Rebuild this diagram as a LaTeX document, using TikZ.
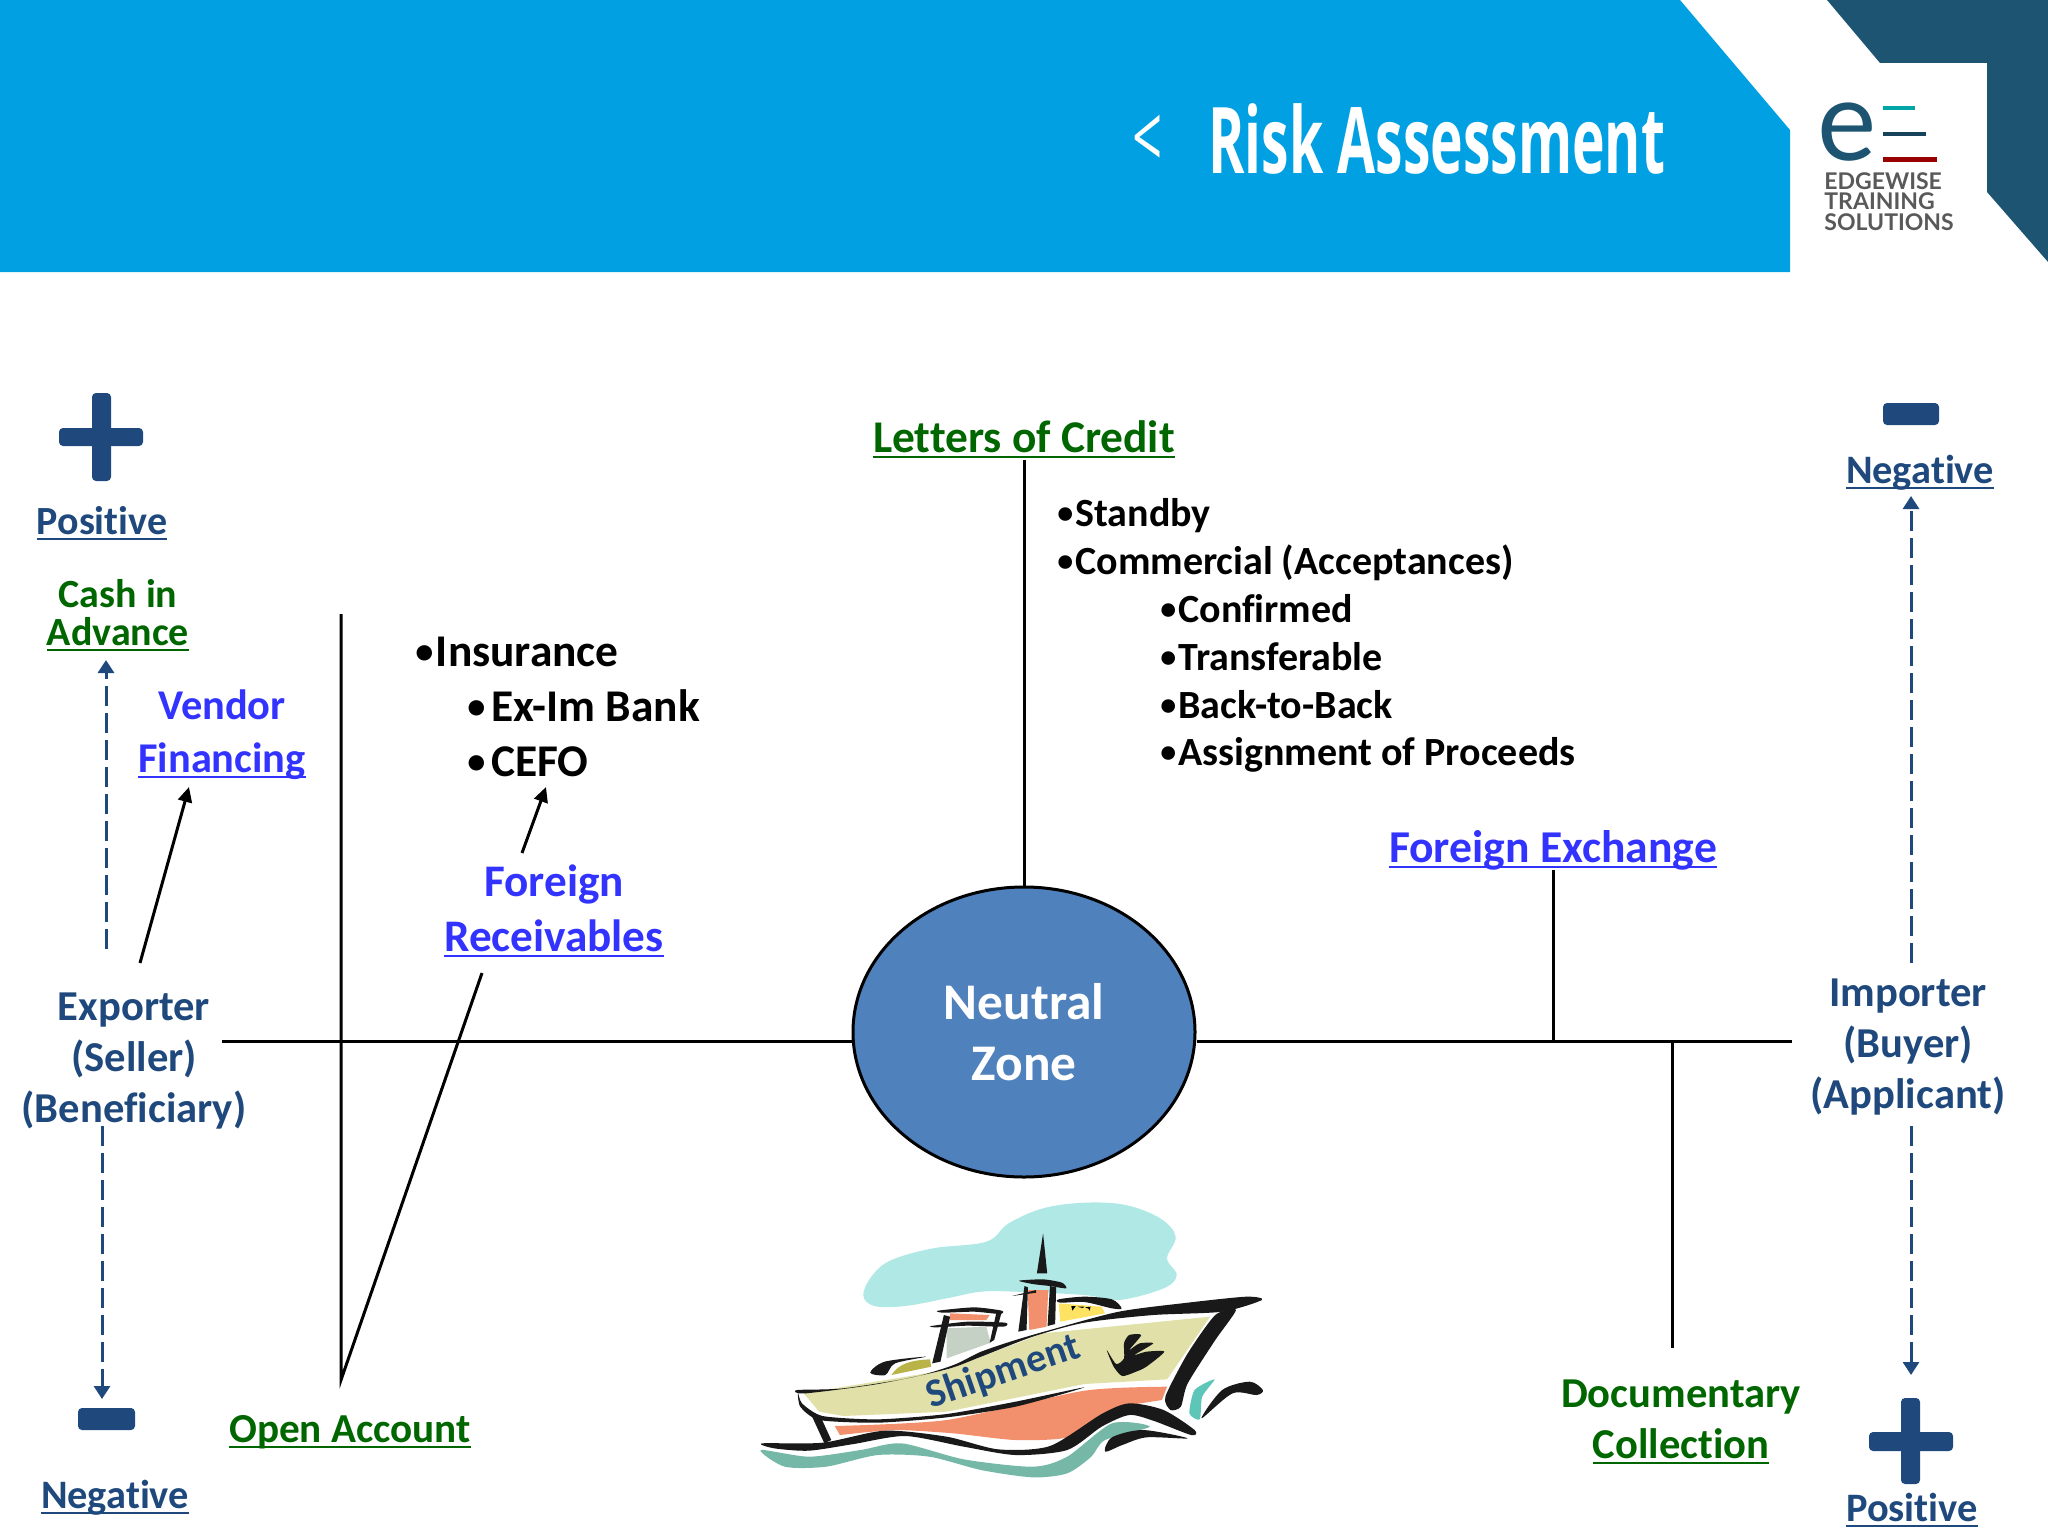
\documentclass[tikz,border=0pt]{standalone}
\usepackage{fontspec}
\usetikzlibrary{arrows.meta,shapes.geometric}
\setmainfont[Ligatures=NoCommon]{Carlito}
\newfontfamily\titlefont[FakeStretch=0.6]{Open Sans}
\newfontfamily\logofont{Lato}
\definecolor{hdr}{HTML}{00A0E3}
\definecolor{hdrdark}{HTML}{1C5471}
\definecolor{navy}{HTML}{1F497D}
\definecolor{grn}{HTML}{006600}
\definecolor{vio}{HTML}{3333FF}
\definecolor{zonefill}{HTML}{4F81BD}
\definecolor{cloudc}{HTML}{B0E8E6}
\definecolor{hullc}{HTML}{E0E0A8}
\definecolor{orng}{HTML}{F28F6C}
\definecolor{wave}{HTML}{75B8A8}
\newcommand{\ulbar}[1]{\leavevmode\setbox0=\hbox{#1}\rlap{\rule[-3pt]{\wd0}{1.4pt}}\box0 }
\newcommand{\bull}[1]{\raisebox{0.07em}{\scalebox{0.8}{•}}\kern#1}
\tikzset{
 lab/.style={inner sep=0pt,yshift=-4.2pt,font=\bfseries\fontsize{#1}{#1}\selectfont,text height=0.7em,text depth=0.2em},
 conn/.style={line width=1.5pt,black},
 dashline/.style={line width=1.5pt,navy,dash pattern=on 10pt off 3.5pt,-{Triangle[width=8pt,length=6.5pt]}},
 arr/.style={conn,-{Triangle[width=7pt,length=7.5pt]}},
 sym/.style={navy,rounded corners=2pt},
}
\begin{document}
\begin{tikzpicture}[x=0.5pt,y=-0.5pt]
\useasboundingbox (0,0) rectangle (2048,1536);
% header
\fill[hdr] (0,0) -- (1680,0) -- (1790,130) -- (1790,272) -- (0,272) -- cycle;
\fill[hdrdark] (1827,0) -- (1880,63) -- (1987,63) -- (1987,192) -- (2048,262) -- (2048,0) -- cycle;
\node[text=white,inner sep=0pt] (chev) at (1148,142) {\titlefont\fontsize{44}{44}\selectfont <};
\node[text=white,inner sep=0pt,anchor=base west] (title) at (1208,173) {\titlefont\bfseries\fontsize{46}{48}\selectfont Risk Assessment};
% logo
\node[text=hdrdark,inner sep=0pt,anchor=base] (logoe) at (1847,160) {\logofont\fontsize{56}{56}\selectfont e};
\fill[teal!70!cyan] (1883,106) rectangle (1915,110);
\fill[hdrdark!80!black] (1883,132) rectangle (1926,136);
\fill[red!60!black] (1883,157) rectangle (1937,162);
\node[text=black!65,inner sep=0pt,anchor=base west] (l1) at (1824,189) {\logofont\bfseries\fontsize{11.5}{12}\selectfont EDGEWISE};
\node[text=black!65,inner sep=0pt,anchor=base west] (l2) at (1824,209) {\logofont\bfseries\fontsize{11.5}{12}\selectfont TRAINING};
\node[text=black!65,inner sep=0pt,anchor=base west] (l3) at (1824,230) {\logofont\bfseries\fontsize{11.5}{12}\selectfont SOLUTIONS};
% zone
\node[ellipse,draw=black,line width=1.5pt,fill=zonefill,minimum width=171pt,minimum height=145pt,inner sep=0pt] (zone) at (1024,1032) {};
\node[lab=25.7,text=white] (z1) at (1024,1006) {Neutral};
\node[lab=25.7,text=white] (z2) at (1024,1067) {Zone};
% labels
\node[lab=22.7,text=grn] (loc) at (1024,439) {\ulbar{Letters of Credit}};
\node[lab=20,text=navy] (posL) at (102,521) {\ulbar{Positive}};
\node[lab=20,text=grn] (cash1) at (118,594) {Cash in};
\node[lab=20,text=grn] (cash2) at (118,632) {\ulbar{Advance}};
\node[lab=21.2,text=vio] (vend1) at (222,706) {Vendor};
\node[lab=21.2,text=vio] (vend2) at (222,759) {\ulbar{Financing}};
\node[lab=22.6,text=vio] (fr1) at (554,883) {Foreign};
\node[lab=22.6,text=vio] (fr2) at (554,938) {\ulbar{Receivables}};
\node[lab=21.3,text=navy] (ex1) at (134,1007) {Exporter};
\node[lab=21.3,text=navy] (ex2) at (134,1058) {(Seller)};
\node[lab=21.3,text=navy] (ex3) at (134,1109) {(Beneficiary)};
\node[lab=21.3,text=navy] (im1) at (1908,993) {Importer};
\node[lab=21.3,text=navy] (im2) at (1908,1044) {(Buyer)};
\node[lab=21.3,text=navy] (im3) at (1908,1095) {(Applicant)};
\node[lab=20.2,text=navy] (negR) at (1920,470) {\ulbar{Negative}};
\node[lab=20.2,text=navy] (negL) at (115,1495) {\ulbar{Negative}};
\node[lab=20.2,text=navy] (posR) at (1912,1508) {\ulbar{Positive}};
\node[lab=20.6,text=grn] (oa) at (350,1429) {\ulbar{Open Account}};
\node[lab=21.3,text=grn] (dc1) at (1681,1394) {Documentary};
\node[lab=21.3,text=grn] (dc2) at (1681,1445) {\ulbar{Collection}};
\node[lab=22.8,text=vio] (fx) at (1553,849) {\ulbar{Foreign Exchange}};
% bullet lists
\node[lab=22.7,anchor=west] (i1) at (415,653) {\bull{1.2pt}Insurance};
\node[lab=22.7,anchor=west] (i2) at (467,708) {\bull{2.8pt}Ex-Im Bank};
\node[lab=22.7,anchor=west] (i3) at (467,763) {\bull{2.8pt}CEFO};
\node[lab=20,anchor=west] (s1) at (1057,513) {\bull{1pt}Standby};
\node[lab=20,anchor=west] (s2) at (1057,561) {\bull{1pt}Commercial (Acceptances)};
\node[lab=20,anchor=west] (s3) at (1160,609) {\bull{1pt}Confirmed};
\node[lab=20,anchor=west] (s4) at (1160,657) {\bull{1pt}Transferable};
\node[lab=20,anchor=west] (s5) at (1160,705) {\bull{1pt}Back-to-Back};
\node[lab=20,anchor=west] (s6) at (1160,752) {\bull{1pt}Assignment of Proceeds};
% free ends
\coordinate (hl) at (222,1041);
\coordinate (hr) at (1792,1041);
\coordinate (vtop) at (341,614);
\coordinate (vbot) at (341,1380);
\coordinate (oaend) at (482,973);
\coordinate (vfs) at (140,963);
\coordinate (vfe) at (189,787);
\coordinate (frs) at (522,853);
\coordinate (fre) at (546,787);
\coordinate (fxs) at (1553,870);
\coordinate (fxe) at (1553,1041);
\coordinate (dcs) at (1672,1041);
\coordinate (dce) at (1672,1348);
\coordinate (locs) at (1024,460);
\coordinate (d1s) at (106,949);
\coordinate (d1e) at (106,660);
\coordinate (d2s) at (102,1126);
\coordinate (d2e) at (102,1399);
\coordinate (d3s) at (1911,963);
\coordinate (d3e) at (1911,496);
\coordinate (d4s) at (1911,1126);
\coordinate (d4e) at (1911,1375);
% connectors
\draw[conn] (hl) -- (zone.west |- hl);
\draw[conn] (zone.east |- hr) -- (hr);
\draw[conn] (locs) -- (zone.north);
\draw[conn] (vtop) -- (vbot) -- (oaend);
\draw[conn] (fxs) -- (fxe);
\draw[conn] (dcs) -- (dce);
\draw[arr] (vfs) -- (vfe);
\draw[arr] (frs) -- (fre);
\draw[dashline] (d1s) -- (d1e);
\draw[dashline] (d2s) -- (d2e);
\draw[dashline] (d3s) -- (d3e);
\draw[dashline] (d4s) -- (d4e);
% plus / minus
\fill[sym] (92,393) rectangle (111,481);
\fill[sym] (59,428) rectangle (143,446);
\fill[sym] (1883,403) rectangle (1939,425);
\fill[sym] (78,1408) rectangle (135,1430);
\fill[sym] (1901,1398) rectangle (1920,1484);
\fill[sym] (1869,1432) rectangle (1953,1451);
% ship
\begin{scope}[shift={(740,1180)},x=0.1722pt,y=-0.16667pt]
\fill[cloudc] plot[smooth cycle,tension=0.6] coordinates {(358,345)(385,285)(440,240)(560,205)(715,185)(780,130)(880,85)(1000,68)(1120,75)(1220,115)(1265,170)(1240,235)(1268,285)(1230,325)(1100,360)(1000,345)(800,335)(700,335)(600,355)(480,378)(390,378)};
\fill[orng] (835,330) -- (895,330) -- (890,440) -- (840,450) -- cycle;
\fill[yellow!70!orange!60] (925,370) -- (1050,380) -- (1060,400) -- (930,425) -- cycle;
\fill[black!90] plot[smooth cycle,tension=0.5] coordinates {(925,358)(1000,350)(1080,358)(1108,385)(1080,385)(1000,366)(930,368)};
\fill[black] (1002,382) -- (1018,380) -- (1015,392) -- (1012,386) -- cycle (962,378) -- (975,378) -- (965,392) -- cycle (980,380) -- (1000,380) -- (995,384) -- cycle;
\fill[black!90] (880,160) -- (892,280) -- (862,280) -- cycle;
\fill[black!90] plot[smooth cycle,tension=0.4] coordinates {(810,302)(880,298)(935,308)(947,325)(900,318)(850,312)};
\fill[black!90] (826,318) -- (808,455) -- (832,450) -- (836,322) -- cycle;
\fill[black!90] (900,318) -- (893,438) -- (915,432) -- (918,322) -- cycle;
\fill[black!90] (790,348) -- (860,330) -- (860,338) -- cycle;
\fill[black!15!green!15!gray!40] (600,445) -- (715,440) -- (728,488) -- (600,535) -- cycle;
\fill[orng] (610,400) -- (725,405) -- (715,420) -- (610,420) -- cycle;
\fill[black!90] plot[smooth cycle,tension=0.4] coordinates {(575,392)(680,382)(760,392)(755,402)(680,395)(590,398)};
\fill[black!90] plot[smooth cycle,tension=0.4] coordinates {(555,438)(660,425)(770,428)(765,440)(660,437)(570,442)};
\fill[black!90] (592,405) -- (558,550) -- (582,545) -- (610,410) -- cycle;
\fill[black!90] (745,395) -- (725,488) -- (738,480) -- (760,395) -- cycle;
\fill[olive!50!hullc] (440,585) .. controls (460,550) and (500,540) .. (552,538) -- (555,560) -- cycle;
\fill[black!90] plot[smooth cycle,tension=0.5] coordinates {(378,578)(420,545)(540,530)(450,550)(422,585)};
\fill[hullc] (185,640) -- (600,570) -- (880,460) -- (1365,410) -- (1240,598) -- (1000,612) -- (600,695) -- (300,708) -- (230,695) -- cycle;
\fill[orng] plot[smooth,tension=0.4] coordinates {(275,738)(600,720)(1000,632)(1240,620)} -- (1225,660) -- plot[smooth,tension=0.4] coordinates {(1100,680)(960,770)(800,780)(620,760)(450,750)(290,765)} -- cycle;
\fill[black!90] plot[smooth cycle,tension=0.45] coordinates {(165,630)(300,625)(500,592)(620,555)(700,515)(800,480)(900,450)(1100,395)(1300,368)(1470,350)(1515,360)(1400,395)(1200,405)(1000,428)(850,470)(700,530)(600,568)(400,612)(190,640)};
\fill[black!90] plot[smooth cycle,tension=0.4] coordinates {(1380,405)(1300,520)(1235,650)(1250,690)(1280,680)(1300,610)(1380,480)(1440,390)};
\fill[black!90] plot[smooth cycle,tension=0.4] coordinates {(168,635)(180,670)(240,708)(400,718)(600,702)(800,665)(1000,622)(800,680)(600,712)(400,728)(230,720)(175,680)};
\fill[black!90] (205,700) -- (245,790) -- (265,780) -- (235,712) -- cycle;
\fill[black!90] plot[smooth cycle,tension=0.45] coordinates {(65,790)(240,788)(420,752)(600,770)(750,808)(900,798)(1050,702)(1130,670)(1230,690)(1320,750)(1310,765)(1200,722)(1130,705)(1050,740)(950,810)(800,825)(650,800)(480,768)(330,792)(200,812)(100,805)};
\fill[wave] plot[smooth cycle,tension=0.45] coordinates {(60,810)(200,830)(350,810)(470,790)(650,838)(850,860)(950,830)(1080,730)(1190,740)(1060,780)(1020,830)(950,880)(850,892)(700,870)(550,830)(400,825)(250,860)(130,860)};
\fill[black!90] plot[smooth cycle,tension=0.5] coordinates {(1060,815)(1080,772)(1170,750)(1300,775)(1180,772)(1110,795)};
\fill[wave!80!cyan] plot[smooth cycle,tension=0.4] coordinates {(1305,700)(1320,630)(1378,598)(1342,650)(1335,718)};
\fill[black!90] plot[smooth cycle,tension=0.5] coordinates {(1340,715)(1400,630)(1480,605)(1518,630)(1500,645)(1430,640)};
\fill[black!90] plot[smooth cycle,tension=0.4] coordinates {(1065,510)(1085,560)(1110,588)(1150,575)(1180,560)(1232,515)(1180,515)(1145,525)(1200,490)(1160,490)(1130,510)(1165,465)(1130,465)(1115,490)(1115,535)(1092,552)};
\node[lab=20,text=navy,rotate=19] (ship) at (770,568) {Shipment};
\end{scope}
\end{tikzpicture}
\end{document}
